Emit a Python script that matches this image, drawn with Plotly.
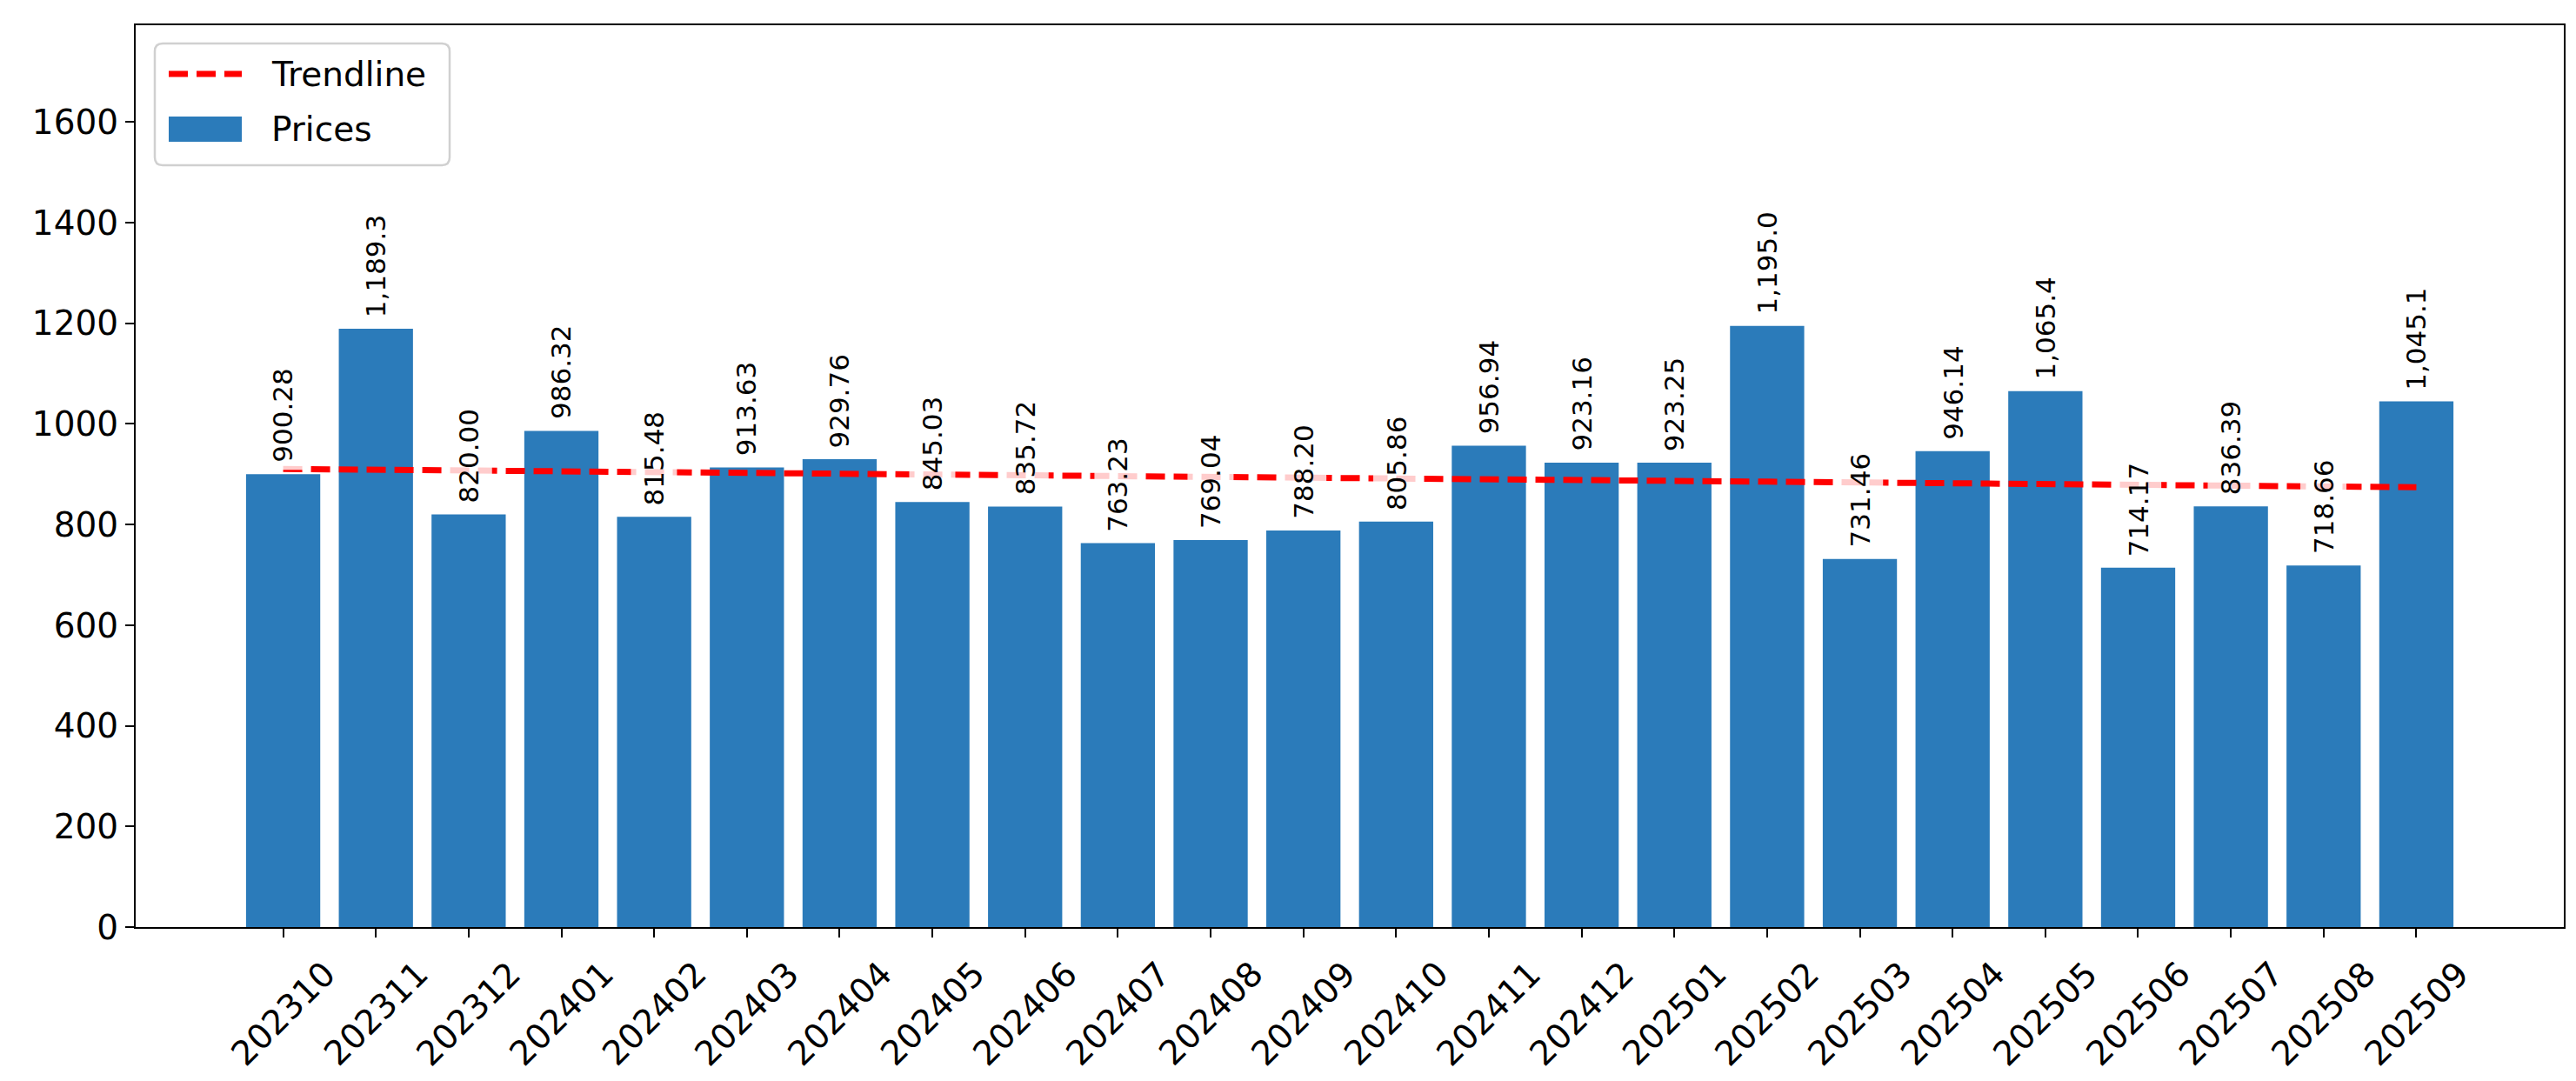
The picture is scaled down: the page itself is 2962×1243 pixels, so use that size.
import plotly.graph_objects as go

# Monthly prices
months = ['202310', '202311', '202312', '202401', '202402', '202403', '202404', '202405',
          '202406', '202407', '202408', '202409', '202410', '202411', '202412', '202501',
          '202502', '202503', '202504', '202505', '202506', '202507', '202508', '202509']
prices = [900.28, 1189.3, 820.00, 986.32, 815.48, 913.63, 929.76, 845.03,
          835.72, 763.23, 769.04, 788.20, 805.86, 956.94, 923.16, 923.25,
          1195.0, 731.46, 946.14, 1065.4, 714.17, 836.39, 718.66, 1045.1]
# trendline end values (first and last month)
trend_months = [months[0], months[-1]]
trend_values = [910.6, 874.2]
y_ticks = [0, 200, 400, 600, 800, 1000, 1200, 1400, 1600]

FONT = 'DejaVu Sans'
BAR_COLOR = '#2b7bba'
W, H = 2962, 1243
ML, MR, MT, MB = 148, 22, 21, 185
PW, PH = W - ML - MR, H - MT - MB


def fmt(v):
    return f"{v:,.2f}" if v < 1000 else f"{v:,.1f}"


def px(x):
    # pixel x -> paper fraction
    return (x - ML) / PW


def py(y):
    # pixel y (from top) -> paper fraction
    return 1 - (y - MT) / PH


def rounded_box(x0, y0, x1, y1, r):
    # rounded rectangle path in paper coords, from pixel corners
    rx, ry = r / PW, r / PH
    a, b, c, d = px(x0), px(x1), py(y1), py(y0)  # left, right, bottom, top
    return (f"M{a + rx},{d} L{b - rx},{d} Q{b},{d} {b},{d - ry} "
            f"L{b},{c + ry} Q{b},{c} {b - rx},{c} L{a + rx},{c} "
            f"Q{a},{c} {a},{c + ry} L{a},{d - ry} Q{a},{d} {a + rx},{d} Z")


fig = go.Figure()
fig.add_trace(go.Bar(
    x=months, y=prices, name='Prices',
    marker=dict(color=BAR_COLOR, line=dict(width=0)),
    width=0.8,
))
fig.add_trace(go.Scatter(
    x=trend_months, y=trend_values, name='Trendline', mode='lines',
    line=dict(color='red', width=7, dash='22px,10px'),
))

annotations = []
# value labels above bars (index x: numeric-looking category names)
for i, v in enumerate(prices):
    annotations.append(dict(
        x=i, y=v, xref='x', yref='y', text=fmt(v), textangle=-90,
        showarrow=False, xanchor='center', yanchor='bottom', yshift=4,
        font=dict(family=FONT, size=31, color='black'),
        bgcolor='rgba(255,255,255,0.8)', borderpad=8,
    ))
# rotated month labels centred under ticks
for i, m in enumerate(months):
    annotations.append(dict(
        x=i, y=0, xref='x', yref='paper', text=m, textangle=-45,
        showarrow=False, xanchor='center', yanchor='top', yshift=-28,
        font=dict(family=FONT, size=39, color='black'),
    ))

# legend drawn by hand (matplotlib style)
shapes = [
    dict(type='path', xref='paper', yref='paper',
         path=rounded_box(170, 42, 509, 182, 9),
         line=dict(color='#d0d0d0', width=2.5), fillcolor='rgba(255,255,255,0.8)', layer='above'),
    dict(type='line', xref='paper', yref='paper',
         x0=px(186), x1=px(270), y0=py(77), y1=py(77),
         line=dict(color='red', width=7, dash='22px,10px'), layer='above'),
    dict(type='rect', xref='paper', yref='paper',
         x0=px(186), x1=px(270), y0=py(155), y1=py(126),
         line=dict(width=0), fillcolor=BAR_COLOR, layer='above'),
]
for label, yy in [('Trendline', 77), ('Prices', 140)]:
    annotations.append(dict(
        x=px(302), y=py(yy), xref='paper', yref='paper', text=label,
        showarrow=False, xanchor='left', yanchor='middle',
        font=dict(family=FONT, size=39, color='black'),
    ))

fig.update_layout(
    width=W, height=H,
    margin=dict(l=ML, r=MR, t=MT, b=MB),
    paper_bgcolor='white', plot_bgcolor='white',
    font=dict(family=FONT, size=39, color='black'),
    annotations=annotations,
    shapes=shapes,
    showlegend=False,
)
fig.update_xaxes(
    type='category', range=[-1.59, 24.59],
    showticklabels=False, ticks='outside', ticklen=10, tickwidth=2.2, tickcolor='black',
    showline=True, linecolor='black', linewidth=2.2, mirror=True,
    showgrid=False, zeroline=False,
)
fig.update_yaxes(
    range=[0, 1792.5], tickvals=y_ticks, ticktext=[str(t) for t in y_ticks],
    ticks='outside', ticklen=10, tickwidth=2.2, tickcolor='black',
    tickfont=dict(family=FONT, size=39, color='black'),
    showline=True, linecolor='black', linewidth=2.2, mirror=True,
    showgrid=False, zeroline=False,
)

fig.write_html("out.html")
